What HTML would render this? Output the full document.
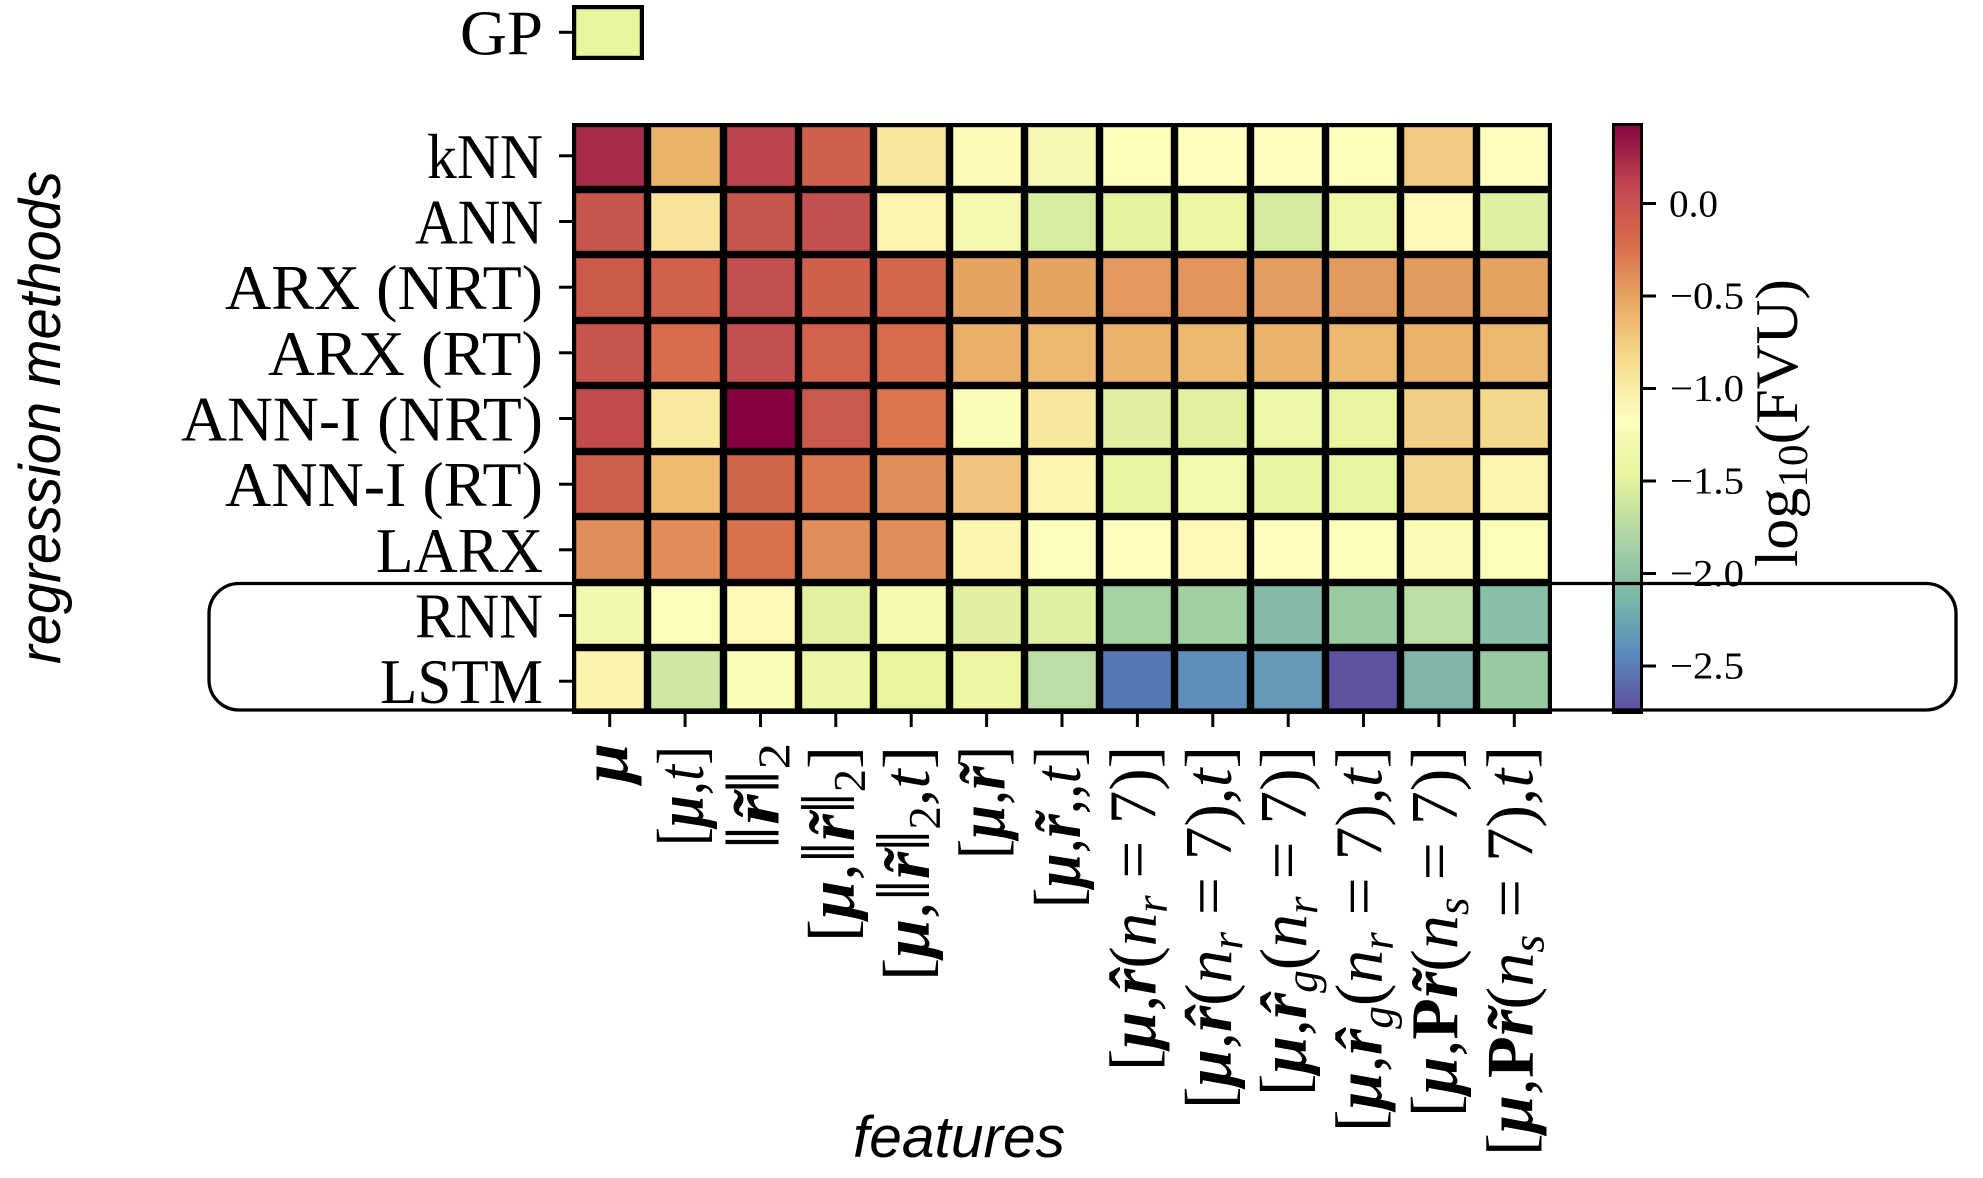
<!DOCTYPE html>
<html>
<head>
<meta charset="utf-8">
<style>
  html, body { margin:0; padding:0; background:#ffffff; }
  #root { position:relative; width:1983px; height:1178px; overflow:hidden; background:#fff; }
  #hm {
    position:absolute; left:572px; top:123px; width:980px; height:591px;
    background:#000; box-sizing:border-box; padding:4px;
    display:grid; grid-template-columns:repeat(13, 1fr); grid-template-rows:repeat(9, 1fr);
    gap:7px;
  }
  #hm div { box-shadow: inset 0 0 0 1px rgba(0,0,0,0.22); }
  #gp {
    position:absolute; left:572px; top:5px; width:72px; height:55px;
    box-sizing:border-box; border:4.5px solid #000; background:#e8f59c;
    box-shadow: inset 0 0 0 1px rgba(0,0,0,0.22);
  }
  #cb {
    position:absolute; left:1611.75px; top:123px; width:31.5px; height:591px;
    box-sizing:border-box; border:3.5px solid #000;
    background: linear-gradient(to top, #5d4fa0 0%, #5a8cbc 10%, #7db9a8 20%, #acd6a4 30%, #e6f39c 40%, #fdfdbe 50%, #f6dc8e 60%, #e9a862 70%, #d96a4b 80%, #c24650 90%, #850742 100%);
  }
  svg { position:absolute; left:0; top:0; }
</style>
</head>
<body>
<div id="root">
  <div id="gp"></div>
  <div id="hm">
    <div style="background:#a82d4a"></div><div style="background:#ebb46b"></div><div style="background:#bc4550"></div><div style="background:#cf604d"></div><div style="background:#f8e89b"></div><div style="background:#fcfbb8"></div><div style="background:#f4f8b0"></div><div style="background:#fcfcbb"></div><div style="background:#fefebe"></div><div style="background:#fefebe"></div><div style="background:#fdfdbc"></div><div style="background:#f0ca80"></div><div style="background:#fefebe"></div>
    <div style="background:#c7574d"></div><div style="background:#f7e49a"></div><div style="background:#c7574d"></div><div style="background:#c44f4f"></div><div style="background:#fcf5b0"></div><div style="background:#f5f9b0"></div><div style="background:#d8eca0"></div><div style="background:#e7f39e"></div><div style="background:#ecf6a0"></div><div style="background:#d6eba0"></div><div style="background:#eff7a6"></div><div style="background:#fef9b8"></div><div style="background:#dff0a0"></div>
    <div style="background:#cc5a4b"></div><div style="background:#d2614b"></div><div style="background:#c44f4f"></div><div style="background:#d0604b"></div><div style="background:#d4664b"></div><div style="background:#e6a462"></div><div style="background:#e6a462"></div><div style="background:#e49a5e"></div><div style="background:#e2965b"></div><div style="background:#e59d5f"></div><div style="background:#e39a5e"></div><div style="background:#e49c5e"></div><div style="background:#e5a361"></div>
    <div style="background:#c9564d"></div><div style="background:#d86b4b"></div><div style="background:#c44f4f"></div><div style="background:#d2624b"></div><div style="background:#d86b4b"></div><div style="background:#ebaf6b"></div><div style="background:#edb872"></div><div style="background:#eab26b"></div><div style="background:#edb870"></div><div style="background:#eab36b"></div><div style="background:#ecb870"></div><div style="background:#eab26b"></div><div style="background:#edb872"></div>
    <div style="background:#c24b4e"></div><div style="background:#f8e99d"></div><div style="background:#87003f"></div><div style="background:#cb5a4d"></div><div style="background:#dc744c"></div><div style="background:#fbfcb8"></div><div style="background:#f8e89d"></div><div style="background:#e0f0a0"></div><div style="background:#e3f19f"></div><div style="background:#eef7a8"></div><div style="background:#ebf5a0"></div><div style="background:#f2ce85"></div><div style="background:#f3d78a"></div>
    <div style="background:#cf5f4c"></div><div style="background:#eeba70"></div><div style="background:#d0654c"></div><div style="background:#da754e"></div><div style="background:#e0905b"></div><div style="background:#f0c67e"></div><div style="background:#fcf5b0"></div><div style="background:#eaf59f"></div><div style="background:#f3f9ad"></div><div style="background:#eaf59f"></div><div style="background:#e9f59e"></div><div style="background:#f3d48a"></div><div style="background:#fcf5ad"></div>
    <div style="background:#e08f5a"></div><div style="background:#e08d59"></div><div style="background:#d8704b"></div><div style="background:#e08f5a"></div><div style="background:#e08f5a"></div><div style="background:#fcf5b0"></div><div style="background:#fcfebd"></div><div style="background:#fdfbbe"></div><div style="background:#fef9b8"></div><div style="background:#fefebf"></div><div style="background:#fcfdba"></div><div style="background:#fcfbb8"></div><div style="background:#fcfdb9"></div>
    <div style="background:#f1f8ae"></div><div style="background:#fbfdba"></div><div style="background:#fef9b8"></div><div style="background:#e2f1a0"></div><div style="background:#f6faaf"></div><div style="background:#e0f0a0"></div><div style="background:#dff0a0"></div><div style="background:#a6d3a4"></div><div style="background:#a2d0a3"></div><div style="background:#84bba8"></div><div style="background:#9acaa2"></div><div style="background:#bbdea4"></div><div style="background:#88bfa7"></div>
    <div style="background:#fcf4ae"></div><div style="background:#cfe6a5"></div><div style="background:#fbfcb8"></div><div style="background:#edf5a6"></div><div style="background:#ebf59c"></div><div style="background:#eef6a4"></div><div style="background:#bcdda5"></div><div style="background:#5479b5"></div><div style="background:#5f90bb"></div><div style="background:#6699b5"></div><div style="background:#5e52a0"></div><div style="background:#80b6aa"></div><div style="background:#96c9a4"></div>
  </div>
  <div id="cb"></div>

  <svg width="1983" height="1178" viewBox="0 0 1983 1178" xmlns="http://www.w3.org/2000/svg">
    <g stroke="#000" stroke-width="3">
      <line x1="559" y1="32.3" x2="572" y2="32.3"/>
      <line x1="559" y1="155.8" x2="572" y2="155.8"/>
      <line x1="559" y1="221.5" x2="572" y2="221.5"/>
      <line x1="559" y1="287.2" x2="572" y2="287.2"/>
      <line x1="559" y1="352.8" x2="572" y2="352.8"/>
      <line x1="559" y1="418.5" x2="572" y2="418.5"/>
      <line x1="559" y1="484.2" x2="572" y2="484.2"/>
      <line x1="559" y1="549.8" x2="572" y2="549.8"/>
      <line x1="559" y1="615.5" x2="572" y2="615.5"/>
      <line x1="559" y1="681.2" x2="572" y2="681.2"/>
      <line x1="609.7" y1="714" x2="609.7" y2="727"/>
      <line x1="685.1" y1="714" x2="685.1" y2="727"/>
      <line x1="760.5" y1="714" x2="760.5" y2="727"/>
      <line x1="835.8" y1="714" x2="835.8" y2="727"/>
      <line x1="911.2" y1="714" x2="911.2" y2="727"/>
      <line x1="986.6" y1="714" x2="986.6" y2="727"/>
      <line x1="1062.0" y1="714" x2="1062.0" y2="727"/>
      <line x1="1137.4" y1="714" x2="1137.4" y2="727"/>
      <line x1="1212.8" y1="714" x2="1212.8" y2="727"/>
      <line x1="1288.2" y1="714" x2="1288.2" y2="727"/>
      <line x1="1363.5" y1="714" x2="1363.5" y2="727"/>
      <line x1="1438.9" y1="714" x2="1438.9" y2="727"/>
      <line x1="1514.3" y1="714" x2="1514.3" y2="727"/>
      <line x1="1643" y1="203.5" x2="1656" y2="203.5"/>
      <line x1="1643" y1="296" x2="1656" y2="296"/>
      <line x1="1643" y1="388.5" x2="1656" y2="388.5"/>
      <line x1="1643" y1="481" x2="1656" y2="481"/>
      <line x1="1643" y1="573.5" x2="1656" y2="573.5"/>
      <line x1="1643" y1="666" x2="1656" y2="666"/>
    </g>

    <g font-family="'Liberation Serif','DejaVu Serif',serif" font-size="63" fill="#000" text-anchor="end">
      <text x="543" y="54.5" textLength="83" lengthAdjust="spacingAndGlyphs">GP</text>
      <text x="543" y="178" textLength="116" lengthAdjust="spacingAndGlyphs">kNN</text>
      <text x="543" y="243.5" textLength="128" lengthAdjust="spacingAndGlyphs">ANN</text>
      <text x="543" y="309.2" textLength="318" lengthAdjust="spacingAndGlyphs">ARX (NRT)</text>
      <text x="543" y="374.8" textLength="275" lengthAdjust="spacingAndGlyphs">ARX (RT)</text>
      <text x="543" y="440.5" textLength="362" lengthAdjust="spacingAndGlyphs">ANN-I (NRT)</text>
      <text x="543" y="506.2" textLength="318" lengthAdjust="spacingAndGlyphs">ANN-I (RT)</text>
      <text x="543" y="571.8" textLength="167" lengthAdjust="spacingAndGlyphs">LARX</text>
      <text x="543" y="637.5" textLength="128" lengthAdjust="spacingAndGlyphs">RNN</text>
      <text x="543" y="703.2" textLength="163" lengthAdjust="spacingAndGlyphs">LSTM</text>
    </g>

    <g font-family="'Liberation Serif','DejaVu Serif',serif" font-size="38" fill="#000">
      <text x="1669" y="216.5" textLength="49" lengthAdjust="spacingAndGlyphs">0.0</text>
      <text x="1670" y="308.5" textLength="74" lengthAdjust="spacingAndGlyphs">−0.5</text>
      <text x="1670" y="401" textLength="74" lengthAdjust="spacingAndGlyphs">−1.0</text>
      <text x="1670" y="493.5" textLength="74" lengthAdjust="spacingAndGlyphs">−1.5</text>
      <text x="1670" y="586" textLength="74" lengthAdjust="spacingAndGlyphs">−2.0</text>
      <text x="1670" y="678.5" textLength="74" lengthAdjust="spacingAndGlyphs">−2.5</text>
    </g>

    <text transform="translate(1797,567) rotate(-90)" font-family="'Liberation Serif','DejaVu Serif',serif" font-size="60" fill="#000" textLength="288" lengthAdjust="spacingAndGlyphs">log<tspan font-size="42" dy="10">10</tspan><tspan dy="-10">(FVU)</tspan></text>

    <g font-family="'Liberation Serif','DejaVu Serif',serif" font-size="67" fill="#000" text-anchor="end">
      <text transform="translate(627.7,743) rotate(-90)" textLength="40" lengthAdjust="spacingAndGlyphs"><tspan font-weight="bold" font-style="italic">μ</tspan></text>
      <text transform="translate(703.1,746) rotate(-90)" textLength="100" lengthAdjust="spacingAndGlyphs">[<tspan font-weight="bold" font-style="italic">μ</tspan>,<tspan font-style="italic">t</tspan>]</text>
      <text transform="translate(778.5,743) rotate(-90)" textLength="107" lengthAdjust="spacingAndGlyphs"><tspan font-size="76">‖</tspan><tspan font-weight="bold" font-style="italic">r̃</tspan><tspan font-size="76">‖</tspan><tspan font-size="45" dy="11">2</tspan></text>
      <text transform="translate(853.8,746) rotate(-90)" textLength="196" lengthAdjust="spacingAndGlyphs">[<tspan font-weight="bold" font-style="italic">μ</tspan>,<tspan font-size="76">‖</tspan><tspan font-weight="bold" font-style="italic">r̃</tspan><tspan font-size="76">‖</tspan><tspan font-size="45" dy="11">2</tspan><tspan dy="-11">]</tspan></text>
      <text transform="translate(929.2,746) rotate(-90)" textLength="235" lengthAdjust="spacingAndGlyphs">[<tspan font-weight="bold" font-style="italic">μ</tspan>,<tspan font-size="76">‖</tspan><tspan font-weight="bold" font-style="italic">r̃</tspan><tspan font-size="76">‖</tspan><tspan font-size="45" dy="11">2</tspan><tspan dy="-11">,</tspan><tspan font-style="italic">t</tspan>]</text>
      <text transform="translate(1004.6,746) rotate(-90)" textLength="113" lengthAdjust="spacingAndGlyphs">[<tspan font-weight="bold" font-style="italic">μ</tspan>,<tspan font-weight="bold" font-style="italic">r̃</tspan>]</text>
      <text transform="translate(1080.0,746) rotate(-90)" textLength="162" lengthAdjust="spacingAndGlyphs">[<tspan font-weight="bold" font-style="italic">μ</tspan>,<tspan font-weight="bold" font-style="italic">r̃</tspan>,,<tspan font-style="italic">t</tspan>]</text>
      <text transform="translate(1155.4,746) rotate(-90)" textLength="325" lengthAdjust="spacingAndGlyphs">[<tspan font-weight="bold" font-style="italic">μ</tspan>,<tspan font-weight="bold" font-style="italic">r̂</tspan>(<tspan font-style="italic">n</tspan><tspan font-size="45" font-style="italic" dy="11">r</tspan><tspan dy="-11"> = 7)]</tspan></text>
      <text transform="translate(1230.8,746) rotate(-90)" textLength="363" lengthAdjust="spacingAndGlyphs">[<tspan font-weight="bold" font-style="italic">μ</tspan>,<tspan font-weight="bold" font-style="italic">r̂</tspan>(<tspan font-style="italic">n</tspan><tspan font-size="45" font-style="italic" dy="11">r</tspan><tspan dy="-11"> = 7),</tspan><tspan font-style="italic">t</tspan>]</text>
      <text transform="translate(1306.2,746) rotate(-90)" textLength="350" lengthAdjust="spacingAndGlyphs">[<tspan font-weight="bold" font-style="italic">μ</tspan>,<tspan font-weight="bold" font-style="italic">r̂</tspan><tspan font-size="45" font-style="italic" dy="11">g</tspan><tspan dy="-11">(</tspan><tspan font-style="italic">n</tspan><tspan font-size="45" font-style="italic" dy="11">r</tspan><tspan dy="-11"> = 7)]</tspan></text>
      <text transform="translate(1381.5,746) rotate(-90)" textLength="386" lengthAdjust="spacingAndGlyphs">[<tspan font-weight="bold" font-style="italic">μ</tspan>,<tspan font-weight="bold" font-style="italic">r̂</tspan><tspan font-size="45" font-style="italic" dy="11">g</tspan><tspan dy="-11">(</tspan><tspan font-style="italic">n</tspan><tspan font-size="45" font-style="italic" dy="11">r</tspan><tspan dy="-11"> = 7),</tspan><tspan font-style="italic">t</tspan>]</text>
      <text transform="translate(1456.9,746) rotate(-90)" textLength="371" lengthAdjust="spacingAndGlyphs">[<tspan font-weight="bold" font-style="italic">μ</tspan>,<tspan font-weight="bold">P</tspan><tspan font-weight="bold" font-style="italic">r̃</tspan>(<tspan font-style="italic">n</tspan><tspan font-size="45" font-style="italic" dy="11">s</tspan><tspan dy="-11"> = 7)]</tspan></text>
      <text transform="translate(1532.3,746) rotate(-90)" textLength="410" lengthAdjust="spacingAndGlyphs">[<tspan font-weight="bold" font-style="italic">μ</tspan>,<tspan font-weight="bold">P</tspan><tspan font-weight="bold" font-style="italic">r̃</tspan>(<tspan font-style="italic">n</tspan><tspan font-size="45" font-style="italic" dy="11">s</tspan><tspan dy="-11"> = 7),</tspan><tspan font-style="italic">t</tspan>]</text>
    </g>

    <text x="853" y="1157" font-family="'Liberation Sans','DejaVu Sans',sans-serif" font-style="italic" font-size="58" fill="#000" textLength="212" lengthAdjust="spacingAndGlyphs">features</text>
    <text transform="translate(60,664) rotate(-90)" font-family="'Liberation Sans','DejaVu Sans',sans-serif" font-style="italic" font-size="58" fill="#000" textLength="493" lengthAdjust="spacingAndGlyphs">regression methods</text>

    <rect x="209" y="583.5" width="1747" height="126.5" rx="30" ry="30" fill="none" stroke="#000" stroke-width="3.3"/>
  </svg>
</div>
</body>
</html>
